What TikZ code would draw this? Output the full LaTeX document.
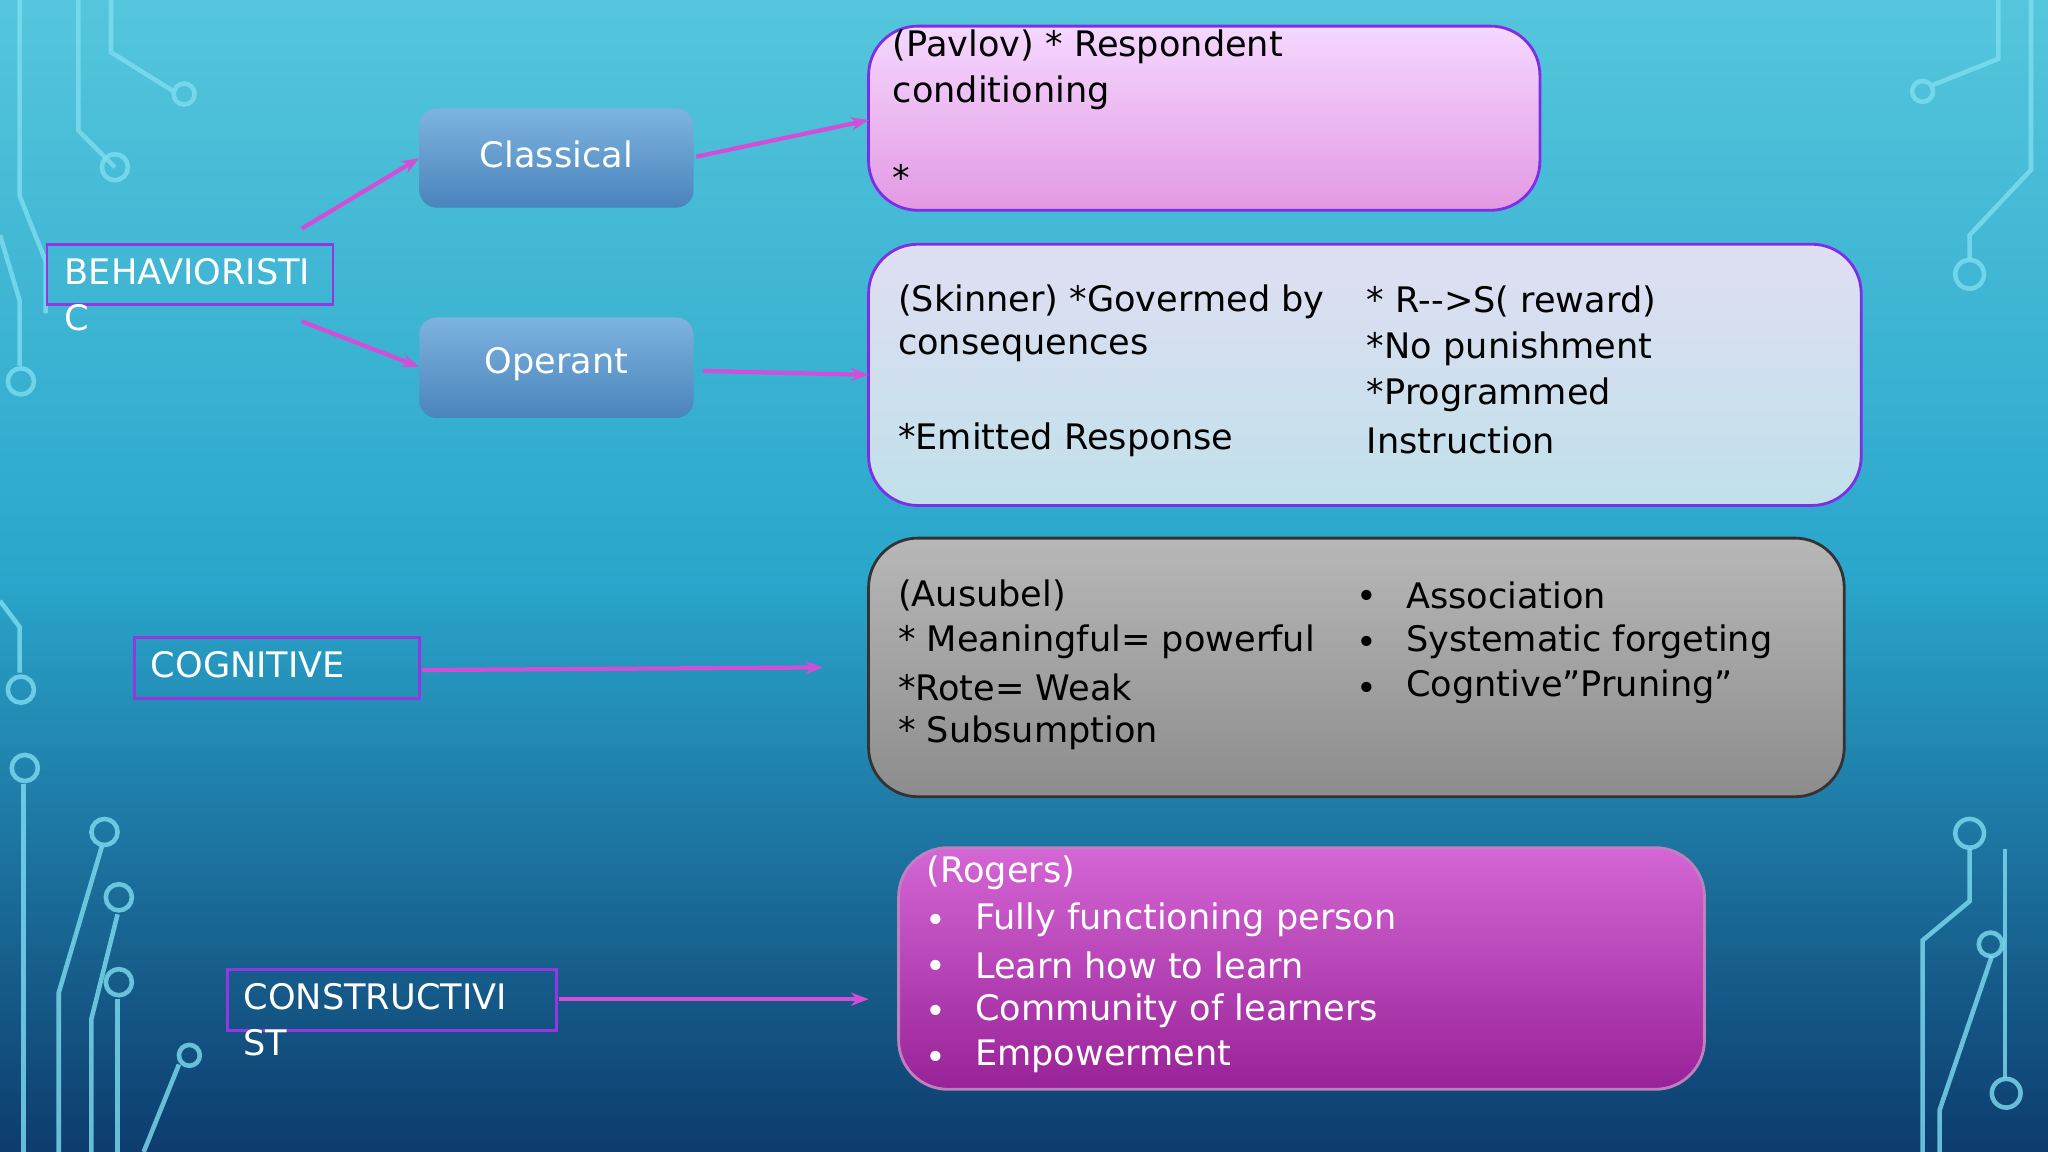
\documentclass[tikz,border=0pt]{standalone}
\usepackage{fontspec}
\setmainfont{DejaVu Sans}
\usetikzlibrary{arrows.meta}
\definecolor{bgtop}{HTML}{55C6DC}
\definecolor{bgmid}{HTML}{2AA6CC}
\definecolor{bgbot}{HTML}{0D3C6E}
\definecolor{arr}{HTML}{D24ED6}
\definecolor{circ}{HTML}{7EDDF0}
\definecolor{btop}{HTML}{7DB3DF}
\definecolor{bbot}{HTML}{4A84BC}
\tikzset{
  x=0.01306cm,y=-0.01306cm,
  txt/.style={anchor=west,inner sep=0,font=\fontsize{10}{12}\selectfont},
  wtxt/.style={txt,text=white},
  arrow/.style={draw=arr,line width=1.2pt,-{Stealth[length=5pt]}},
  lbl/.style={draw=arr!70!blue,line width=0.8pt},
  bigbox/.style={rounded corners=14pt,draw=arr!60!blue,line width=0.8pt},
  cl/.style={draw=circ,line width=1.3pt,opacity=0.8},
}
\begin{document}
\begin{tikzpicture}
\useasboundingbox (0,0) rectangle (1568,882);
\shade[top color=bgtop,bottom color=bgbot,middle color=bgmid] (0,0) rectangle (1568,882);
% circuit decorations
\draw[cl] (15,0)--(15,150)--(35,200)--(35,240);
\draw[cl] (60,0)--(60,100)--(88,128); \draw[cl] (88,128) circle (10);
\draw[cl] (85,0)--(85,40)--(133,70); \draw[cl] (141,72) circle (8);
\draw[cl] (0,180)--(15,230)--(15,280); \draw[cl] (16,292) circle (10);
\draw[cl] (0,460)--(15,480)--(15,515); \draw[cl] (16,528) circle (10);
\draw[cl] (18,600)--(18,882); \draw[cl] (19,588) circle (10);
\draw[cl] (45,882)--(45,760)--(78,648); \draw[cl] (80,637) circle (10);
\draw[cl] (70,882)--(70,780)--(90,700); \draw[cl] (91,687) circle (10);
\draw[cl] (90,882)--(90,765); \draw[cl] (91,752) circle (10);
\draw[cl] (110,882)--(137,815); \draw[cl] (145,808) circle (8);
\draw[cl] (1555,0)--(1555,130)--(1508,180)--(1508,198); \draw[cl] (1508,210) circle (11);
\draw[cl] (1530,0)--(1530,45)--(1480,65); \draw[cl] (1472,70) circle (8);
\draw[cl] (1508,650)--(1508,690)--(1472,720)--(1472,882); \draw[cl] (1508,638) circle (11);
\draw[cl] (1525,732)--(1485,850)--(1485,882); \draw[cl] (1524,723) circle (9);
\draw[cl] (1535,650)--(1535,825); \draw[cl] (1536,837) circle (11);
% left label boxes
\draw[lbl] (36,187) rectangle (255,233);
\node[wtxt] (beh) at (49,208) {BEHAVIORISTI};
\node[wtxt] at (49,243) {C};
\draw[lbl] (103,488) rectangle (321,535);
\node[wtxt] (cog) at (115,509) {COGNITIVE};
\coordinate (coge) at (323,513);
\draw[lbl] (174,742) rectangle (426,789);
\node[wtxt] (con) at (186,763) {CONSTRUCTIVI};
\node[wtxt] at (186,798) {ST};
\coordinate (cone) at (428,765);
% blue boxes
\shade[rounded corners=5pt,top color=btop,bottom color=bbot] (321,83) rectangle (531,159);
\node[wtxt,anchor=center] (cla) at (426,118) {Classical};
\shade[rounded corners=5pt,top color=btop,bottom color=bbot] (321,243) rectangle (531,320);
\node[wtxt,anchor=center] (ope) at (426,279) {Operant};
% big boxes
\draw[bigbox,top color=magenta!12!white!96!blue,bottom color=magenta!45!violet!40!white] (665,20) rectangle (1179,161);
\coordinate (pav) at (665,92);
\node[txt] at (683,36) {(Pavlov) * Respondent};
\node[txt] at (683,71) {conditioning};
\node[txt] at (683,136) {*};
\draw[bigbox,top color=blue!8!white!95!black,bottom color=blue!25!cyan!18!white!92!black] (665,187) rectangle (1425,387);
\coordinate (ski) at (665,287);
\node[txt] at (687,231) {(Skinner) *Govermed by};
\node[txt] at (687,267) {consequences};
\node[txt] at (687,337) {*Emitted Response};
\node[txt] at (1046,231) {* R{-}{-}>S( reward)};
\node[txt] at (1046,267) {*No punishment};
\node[txt] at (1046,302) {*Programmed};
\node[txt] at (1046,337) {Instruction};
\draw[bigbox,draw=black!80,top color=black!28,bottom color=black!45] (665,412) rectangle (1412,610);
\coordinate (aus) at (630,511);
\node[txt] at (687,456) {(Ausubel)};
\node[txt] at (687,491) {* Meaningful= powerful};
\node[txt] at (687,526) {*Rote= Weak};
\node[txt] at (687,561) {* Subsumption};
\foreach \y/\t in {456/Association,491/Systematic forgeting,526/Cogntive”Pruning”}{
  \node[txt] at (1038,\y+3) {•}; \node[txt] at (1076,\y) {\t};}
\draw[bigbox,draw=violet!50!white,top color=violet!55!magenta!60!white,bottom color=violet!80!magenta!85!white!90!black] (688,649) rectangle (1305,834);
\coordinate (rog) at (665,765);
\node[wtxt] at (709,668) {(Rogers)};
\foreach \y/\t in {704/Fully functioning person,739/Learn how to learn,774/Community of learners,809/Empowerment}{
  \node[wtxt] at (708,\y+3) {•}; \node[wtxt] at (746,\y) {\t};}
% arrows
\coordinate (b1) at (231,175);
\coordinate (b2) at (231,246);
\coordinate (clw) at (321,121);
\coordinate (opw) at (321,281);
\coordinate (cle) at (533,120);
\coordinate (ope2) at (538,284);
\draw[arrow] (b1) -- (clw);
\draw[arrow] (b2) -- (opw);
\draw[arrow] (cle) -- (pav);
\draw[arrow] (ope2) -- (ski);
\draw[arrow] (coge) -- (aus);
\draw[arrow] (cone) -- (rog);
\end{tikzpicture}
\end{document}
